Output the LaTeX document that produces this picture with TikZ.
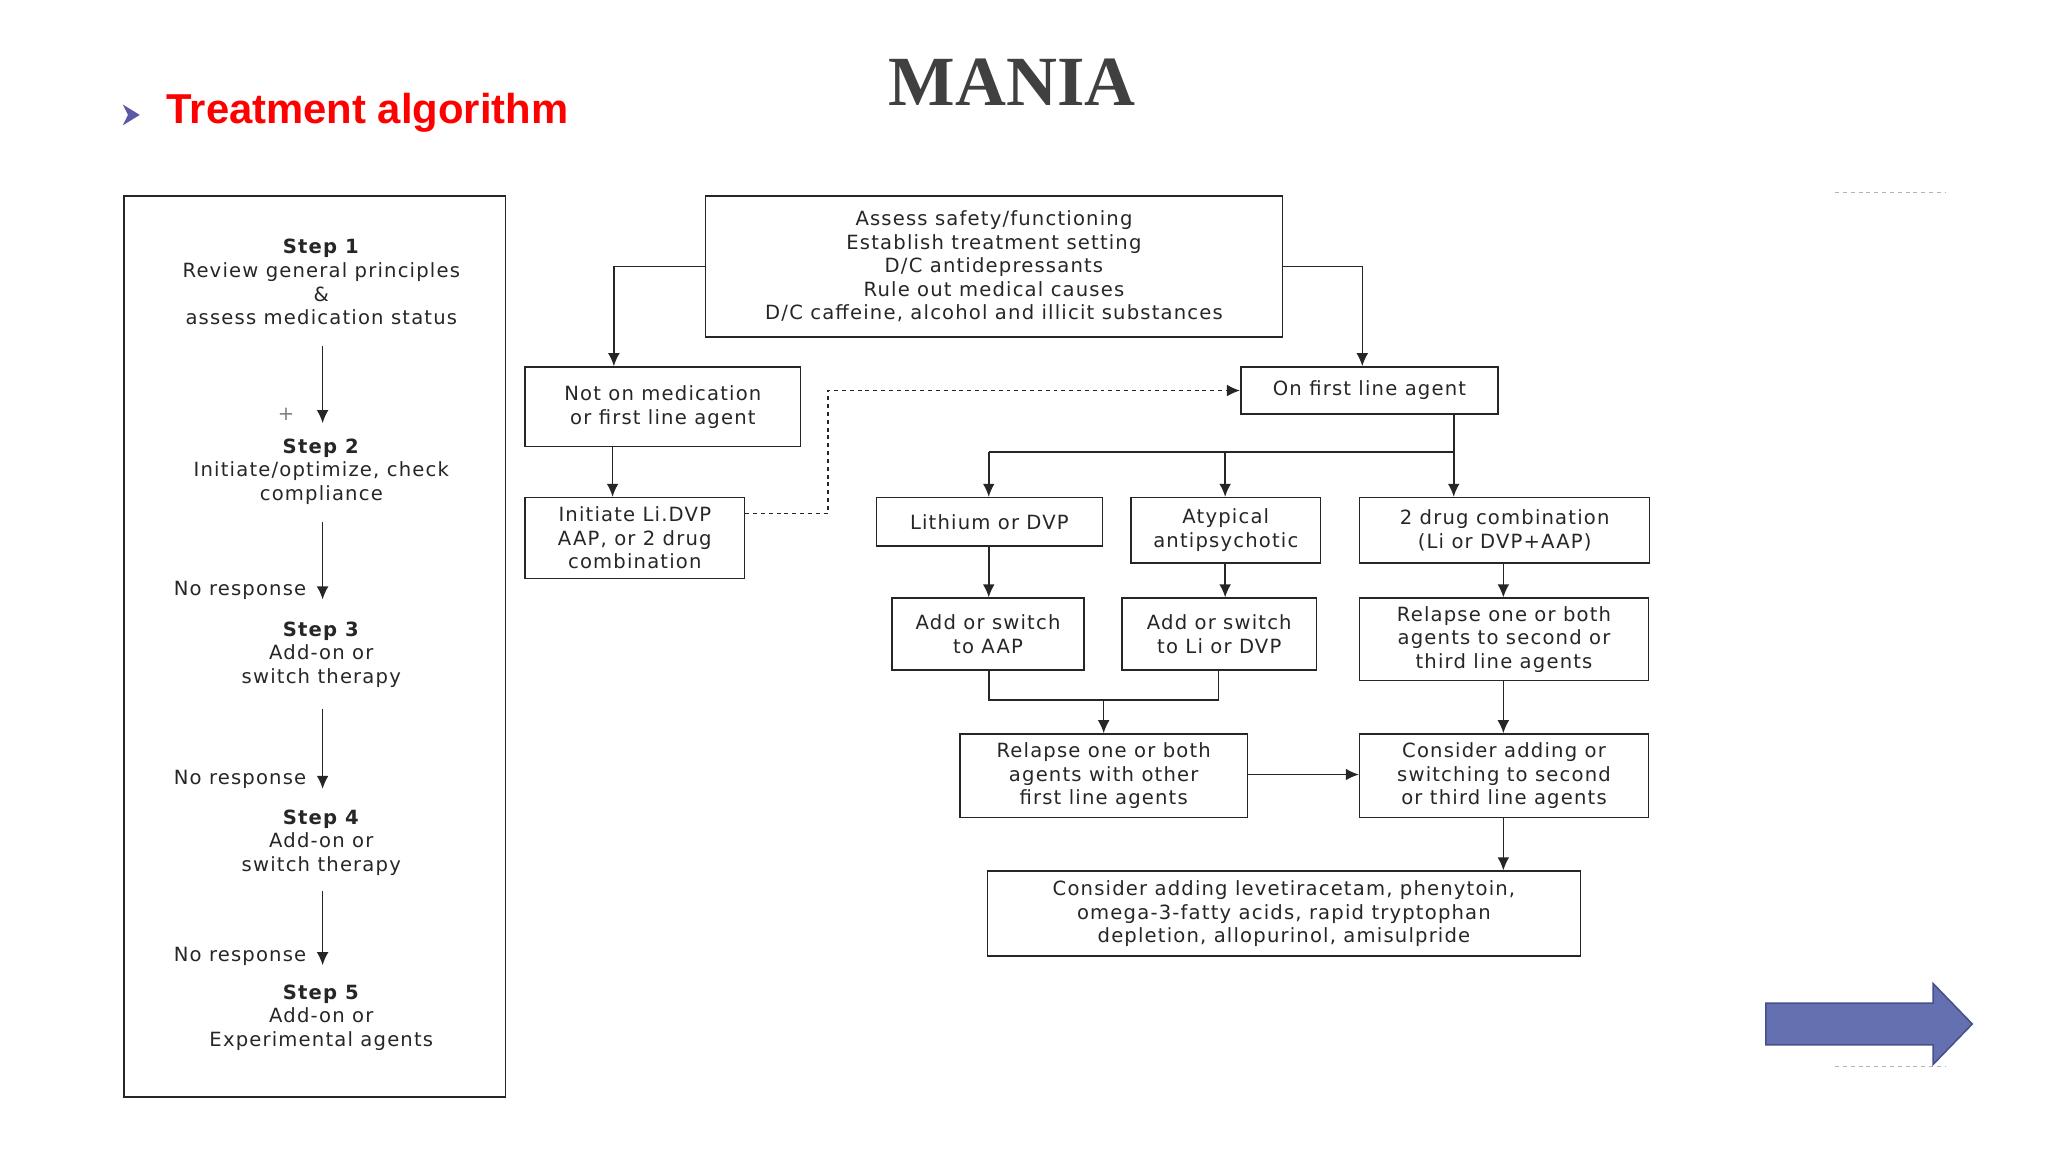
\documentclass[tikz,border=0pt]{standalone}
\usepackage{fontspec}
\setmainfont{DejaVu Sans}[LetterSpace=6]
\newfontfamily\arialf{Liberation Sans}
\newfontfamily\timesf{Liberation Serif}
\usetikzlibrary{arrows.meta}
\begin{document}
\begin{tikzpicture}[x=1pt,y=-1pt,
  box/.style={draw=black!85,line width=1.2pt,inner sep=0pt},
  t/.style={align=center,font=\fontsize{15}{18}\selectfont,text=black!85},
  ar/.style={-{Latex[length=10pt,width=9pt]},line width=1.2pt,draw=black!85},
  ln/.style={line width=1.2pt,draw=black!85}]
\useasboundingbox (0,0) rectangle (1568,882);
\node[font=\timesf\bfseries\fontsize{54}{60}\selectfont,text=black!75] (title) at (775,63) {MANIA};
\node[font=\arialf\bfseries\fontsize{32}{36}\selectfont,text=red,anchor=west] (sub) at (124,86) {Treatment algorithm};
\fill[gray!70!blue] (94,80)--(107,88)--(94,96)--(98,88)--cycle;
% left column
\draw[box] (95,150) rectangle (387,840);
\node[t] (s1) at (246,216) {\textbf{Step 1}\\Review general principles\\\&\\assess medication status};
\node[t] (s2) at (246,361) {\textbf{Step 2}\\Initiate/optimize, check\\compliance};
\node[t] (s3) at (246,501) {\textbf{Step 3}\\Add-on or\\switch therapy};
\node[t] (s4) at (246,645) {\textbf{Step 4}\\Add-on or\\switch therapy};
\node[t] (s5) at (246,779) {\textbf{Step 5}\\Add-on or\\Experimental agents};
\coordinate (a1) at (247,265); \coordinate (b1) at (247,324);
\coordinate (a2) at (247,400); \coordinate (b2) at (247,459);
\coordinate (a3) at (247,543); \coordinate (b3) at (247,604);
\coordinate (a4) at (247,682); \coordinate (b4) at (247,739);
\draw[ar] (a1)--(b1); \draw[ar] (a2)--(b2); \draw[ar] (a3)--(b3); \draw[ar] (a4)--(b4);
\node[t,text=black!50] (plus) at (219,317) {+};
\node[t,anchor=east] (n1) at (238,452) {No response};
\node[t,anchor=east] (n2) at (238,597) {No response};
\node[t,anchor=east] (n3) at (238,732) {No response};
% main boxes
\node[box,t,minimum width=442,minimum height=108] (top) at (761,204) {Assess safety/functioning\\Establish treatment setting\\D/C antidepressants\\Rule out medical causes\\D/C caffeine, alcohol and illicit substances};
\node[box,t,minimum width=211,minimum height=61] (notmed) at (507.5,311.5) {Not on medication\\or first line agent};
\node[box,t,minimum width=168,minimum height=62] (init) at (486,412) {Initiate Li.DVP\\AAP, or 2 drug\\combination};
\node[box,t,minimum width=197,minimum height=36] (first) at (1048.5,299) {On first line agent};
\node[box,t,minimum width=173,minimum height=37] (li) at (757.5,399.5) {Lithium or DVP};
\node[box,t,minimum width=145,minimum height=50] (aty) at (938.5,406) {Atypical\\antipsychotic};
\node[box,t,minimum width=222,minimum height=50] (two) at (1152,406) {2 drug combination\\(Li or DVP+AAP)};
\node[box,t,minimum width=147,minimum height=55] (aap) at (756.5,485.5) {Add or switch\\to AAP};
\node[box,t,minimum width=149,minimum height=55] (lid) at (933.5,485.5) {Add or switch\\to Li or DVP};
\node[box,t,minimum width=221,minimum height=63] (rel2) at (1151.5,489.5) {Relapse one or both\\agents to second or\\third line agents};
\node[box,t,minimum width=220,minimum height=64] (rel1) at (845,594) {Relapse one or both\\agents with other\\first line agents};
\node[box,t,minimum width=221,minimum height=64] (cons) at (1151.5,594) {Consider adding or\\switching to second\\or third line agents};
\node[box,t,minimum width=454,minimum height=65] (bot) at (983,699.5) {Consider adding levetiracetam, phenytoin,\\omega-3-fatty acids, rapid tryptophan\\depletion, allopurinol, amisulpride};
% connectors
\draw[ar] (top.west|-0,204) -| (notmed.north-|470,0);
\draw[ar] (top.east|-0,204) -| (first.north-|1043,0);
\draw[ar] (notmed.south-|469,0) -- (init.north-|469,0);
\coordinate (d1) at (634,393);
\draw[ln,dashed,-{Latex[length=10pt,width=9pt]}] (init.east|-0,393) -- (d1) |- (first.west);
\coordinate (j1) at (1113,346);
\draw[ar] (first.south-|1113,0) -- (two.north-|1113,0);
\draw[ln] (j1) -- (757,346);
\draw[ar] (757,346) -- (li.north-|757,0);
\draw[ar] (938,346) -- (aty.north-|938,0);
\draw[ar] (li.south-|757,0) -- (aap.north-|757,0);
\draw[ar] (aty.south-|938,0) -- (lid.north-|938,0);
\draw[ar] (two.south-|1151,0) -- (rel2.north-|1151,0);
\coordinate (m1) at (845,536);
\draw[ln] (aap.south-|757,0) |- (m1) -| (lid.south-|933,0);
\draw[ar] (m1) -- (rel1.north-|845,0);
\draw[ar] (rel1.east|-0,593) -- (cons.west|-0,593);
\draw[ar] (rel2.south-|1151,0) -- (cons.north-|1151,0);
\draw[ar] (cons.south-|1151,0) -- (bot.north-|1151,0);
% decorations
\draw[gray!60,dashed] (1405,147)--(1490,147);
\draw[gray!60,dashed] (1405,816)--(1490,816);
\draw[fill={rgb,255:red,100;green,112;blue,176},draw={rgb,255:red,70;green,80;blue,140},line width=1.2pt] (1352,768)--(1480,768)--(1480,753)--(1510,784)--(1480,815)--(1480,800)--(1352,800)--cycle;
\end{tikzpicture}
\end{document}
